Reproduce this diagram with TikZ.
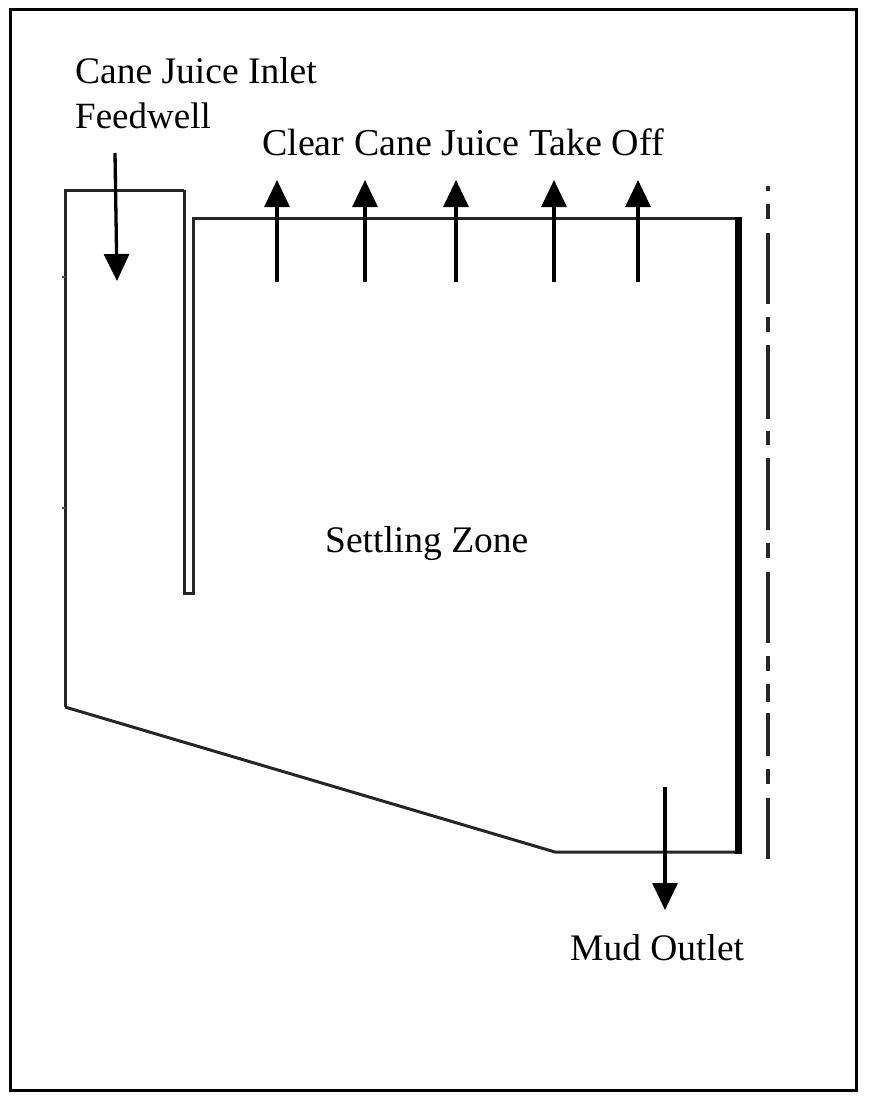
\documentclass[tikz,border=0pt]{standalone}
\usepackage{fontspec}
\setmainfont{Liberation Serif}
\usetikzlibrary{arrows.meta}
\tikzset{
  wall/.style={line width=3pt,draw=black!85,line join=miter},
  thickwall/.style={line width=6.5pt,draw=black},
  flow/.style={line width=3.3pt,draw=black,-{Triangle[length=27pt,width=25pt]}},
  label/.style={anchor=base west,inner sep=0pt,font=\fontsize{37.5}{37.5}\selectfont},
  axisdash/.style={line width=3.2pt,draw=black!85},
  tick/.style={line width=2.5pt,draw=black!70}
}
\begin{document}
\begin{tikzpicture}[x=1pt,y=-1pt]
\useasboundingbox (0,0) rectangle (870,1100);
\fill[white] (0,0) rectangle (870,1100);
\draw[line width=3pt,black] (10,9) rectangle (856,1090);
% vessel outline
\draw[wall] (184,190) -- (65,190) -- (65,707);
\draw[wall] (65,707) -- (555,852) -- (738,852);
\draw[wall] (184,190) -- (184,593) -- (193,593) -- (193,218) -- (738,218);
\draw[thickwall] (738.5,216.5) -- (738.5,853.5);
\draw[tick] (62,277) -- (66,277);
\draw[tick] (62,508) -- (66,508);
% centre line
\foreach \a/\b in {186/191,204/219,233/304,317/332,345/419,431/445,458/530,543/558,572/643,656/671,684/702,713/756,769/784,798/859}
  \draw[axisdash] (768,\a) -- (768,\b);
% labels
\node[label] (inlet) at (75,83) {Cane Juice Inlet};
\node[label,font=\fontsize{37}{37}\selectfont] (feedwell) at (75,128) {Feedwell};
\node[label,font=\fontsize{38}{38}\selectfont] (takeoff) at (262,155) {Clear Cane Juice Take Off};
\node[label] (settling) at (325,552) {Settling Zone};
\node[label] (mud) at (570,960) {Mud Outlet};
% arrows
\coordinate (inA) at (115,153); \coordinate (inB) at (117,281);
\draw[flow] (inA) -- (inB);
\foreach \n/\x in {a/277,b/365,c/456,d/554,e/638}{
  \coordinate (up\n A) at (\x,282); \coordinate (up\n B) at (\x,180);
  \draw[flow] (up\n A) -- (up\n B);
}
\coordinate (mudA) at (665,787); \coordinate (mudB) at (665,910);
\draw[flow] (mudA) -- (mudB);
\end{tikzpicture}
\end{document}
